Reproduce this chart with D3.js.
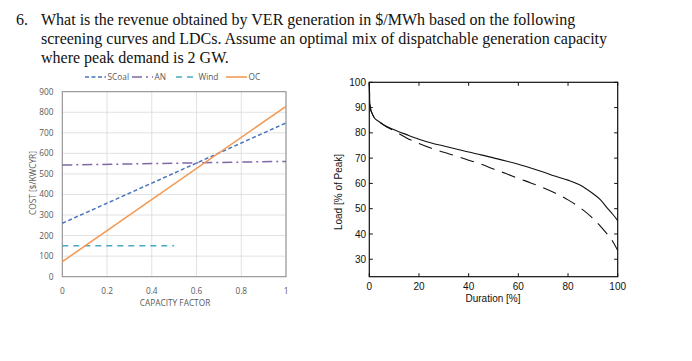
<!DOCTYPE html>
<html>
<head>
<meta charset="UTF-8">
<title>Screening curves and LDCs</title>
<script src="https://d3js.org/d3.v7.min.js"></script>
<style>
  body { margin: 0; background: #fff; }
  svg { display: block; }
</style>
</head>
<body>
<div id="chart"></div>
<script>
  // question text
  var questionLines = [
    "What is the revenue obtained by VER generation in $/MWh based on the following",
    "screening curves and LDCs. Assume an optimal mix of dispatchable generation capacity",
    "where peak demand is 2 GW."
  ];

  // screening curves (cost vs capacity factor)
  var cfTicks = [0, 0.2, 0.4, 0.6, 0.8, 1];
  var costTicks = [0, 100, 200, 300, 400, 500, 600, 700, 800, 900];
  var techNames = ["SCoal", "AN", "Wind", "OC"];
  var scoalCF = [0, 1], scoalCost = [260, 748];
  var anCF = [0, 1], anCost = [543, 561];
  var windCF = [0, 0.5], windCost = [150, 150];
  var ocCF = [0, 1], ocCost = [73, 829];

  // load duration curves
  var durTicks = [0, 20, 40, 60, 80, 100];
  var loadTicks = [30, 40, 50, 60, 70, 80, 90, 100];
  var durSolid = [0, 0.2, 0.5, 1, 2, 4, 6, 10, 15, 20, 25, 30, 35, 40, 45, 50, 55, 60, 65, 70, 75, 80, 85, 90, 93, 96, 98, 100];
  var loadSolid = [100, 92, 89.5, 88, 86, 84.4, 83, 81.2, 79.3, 77.5, 76, 74.8, 73.6, 72.4, 71.3, 70.1, 68.9, 67.6, 66.1, 64.5, 62.8, 61.3, 59.3, 56, 53.6, 50, 47.8, 45.3];
  var durDashed = [0, 0.2, 0.5, 1, 2, 4, 6, 10, 15, 20, 25, 30, 35, 40, 45, 50, 55, 60, 65, 70, 75, 80, 85, 90, 94, 98, 100];
  var loadDashed = [100, 92, 89.5, 88, 86, 84.4, 83, 80.8, 78, 75.8, 73.9, 72.3, 70.8, 69.2, 67.6, 65.7, 63.9, 62, 60.2, 58.3, 56.1, 53.5, 50.3, 46.2, 42, 37, 33.5];

  var W = 692, H = 361;
  var svg = d3.select("#chart").append("svg").attr("width", W).attr("height", H);

  // --- question ---
  var q = svg.append("g").attr("font-family", "'Liberation Serif', 'Times New Roman', serif")
    .attr("font-size", 16).attr("fill", "#111");
  q.append("text").attr("x", 16).attr("y", 25).text("6.");
  q.selectAll("text.line").data(questionLines).enter().append("text")
    .attr("class", "line")
    .attr("x", 41)
    .attr("y", function(d, i) { return 25 + i * 18.8; })
    .text(function(d) { return d; });

  // --- left: screening curves ---
  var x1 = d3.scaleLinear().domain([0, 1]).range([62.3, 286]);
  var y1 = d3.scaleLinear().domain([0, 900]).range([276.7, 91.7]);
  var left = svg.append("g").attr("font-family", "'Open Sans', 'Liberation Sans', sans-serif")
    .attr("fill", "#595959");

  left.append("g").selectAll("line.h").data(costTicks).enter().append("line")
    .attr("x1", x1(0)).attr("x2", x1(1))
    .attr("y1", function(d) { return y1(d); }).attr("y2", function(d) { return y1(d); })
    .attr("stroke", "#d9d9d9").attr("stroke-width", 0.8);
  left.append("g").selectAll("line.v").data(cfTicks).enter().append("line")
    .attr("y1", y1(0)).attr("y2", y1(900))
    .attr("x1", function(d) { return x1(d); }).attr("x2", function(d) { return x1(d); })
    .attr("stroke", "#d9d9d9").attr("stroke-width", 0.8);
  left.append("rect")
    .attr("x", x1(0)).attr("y", y1(900))
    .attr("width", x1(1) - x1(0)).attr("height", y1(0) - y1(900))
    .attr("fill", "none").attr("stroke", "#8c8c8c").attr("stroke-width", 1);

  left.append("g").selectAll("text").data(costTicks).enter().append("text")
    .attr("x", 53.5).attr("y", function(d) { return y1(d) + 3; })
    .attr("text-anchor", "end").attr("font-size", 8.3)
    .text(function(d) { return d; });
  left.append("g").selectAll("text").data(cfTicks).enter().append("text")
    .attr("x", function(d) { return x1(d); }).attr("y", 293.5)
    .attr("text-anchor", "middle").attr("font-size", 8.3)
    .text(function(d) { return d; });
  left.append("text")
    .attr("x", 175).attr("y", 305.5).attr("text-anchor", "middle").attr("font-size", 8.3)
    .text("CAPACITY FACTOR");
  left.append("text")
    .attr("transform", "translate(36,183) rotate(-90)")
    .attr("text-anchor", "middle").attr("font-size", 8.3)
    .text("COST [$/KWCYR]");

  var techStyle = [
    { xs: scoalCF, ys: scoalCost, color: "#4a75bd", dash: "4,2.5", w: 1.5 },
    { xs: anCF, ys: anCost, color: "#7e68a6", dash: "10,4,2,4", w: 1.5 },
    { xs: windCF, ys: windCost, color: "#4aa9c2", dash: "6,5", w: 1.5 },
    { xs: ocCF, ys: ocCost, color: "#f39a55", dash: null, w: 1.6 }
  ];
  var line1 = d3.line().x(function(d) { return x1(d[0]); }).y(function(d) { return y1(d[1]); });
  techStyle.forEach(function(s) {
    left.append("path")
      .datum(d3.zip(s.xs, s.ys))
      .attr("d", line1)
      .attr("fill", "none")
      .attr("stroke", s.color)
      .attr("stroke-width", s.w)
      .attr("stroke-dasharray", s.dash);
  });

  // legend
  var legX = [85, 132, 176, 226];
  var leg = left.append("g");
  techNames.forEach(function(n, i) {
    var s = techStyle[i];
    leg.append("line")
      .attr("x1", legX[i]).attr("x2", legX[i] + 21)
      .attr("y1", 77).attr("y2", 77)
      .attr("stroke", s.color).attr("stroke-width", s.w)
      .attr("stroke-dasharray", s.dash);
    leg.append("text")
      .attr("x", legX[i] + 22.5).attr("y", 80)
      .attr("font-size", 8.3)
      .text(n);
  });

  // --- right: load duration curves ---
  var x2 = d3.scaleLinear().domain([0, 100]).range([369.3, 617.7]);
  var y2 = d3.scaleLinear().domain([23.1, 100]).range([276.7, 82.3]);
  var right = svg.append("g").attr("font-family", "'Liberation Sans', Arial, sans-serif")
    .attr("fill", "#111");

  var line2 = d3.line().curve(d3.curveMonotoneX)
    .x(function(d) { return x2(d[0]); }).y(function(d) { return y2(d[1]); });
  right.append("path")
    .datum(d3.zip(durDashed, loadDashed))
    .attr("d", line2)
    .attr("fill", "none").attr("stroke", "#111").attr("stroke-width", 1.1)
    .attr("stroke-dasharray", "14,8");
  right.append("path")
    .datum(d3.zip(durSolid, loadSolid))
    .attr("d", line2)
    .attr("fill", "none").attr("stroke", "#111").attr("stroke-width", 1.1);

  right.append("rect")
    .attr("x", x2(0)).attr("y", y2(100))
    .attr("width", x2(100) - x2(0)).attr("height", y2(23.1) - y2(100))
    .attr("fill", "none").attr("stroke", "#111").attr("stroke-width", 1.2);

  var tk = 3.5;
  var ticksX = right.append("g").attr("stroke", "#111").attr("stroke-width", 1);
  durTicks.forEach(function(d) {
    ticksX.append("line").attr("x1", x2(d)).attr("x2", x2(d)).attr("y1", y2(23.1)).attr("y2", y2(23.1) - tk);
    ticksX.append("line").attr("x1", x2(d)).attr("x2", x2(d)).attr("y1", y2(100)).attr("y2", y2(100) + tk);
  });
  loadTicks.forEach(function(d) {
    ticksX.append("line").attr("x1", x2(0)).attr("x2", x2(0) + tk).attr("y1", y2(d)).attr("y2", y2(d));
    ticksX.append("line").attr("x1", x2(100)).attr("x2", x2(100) - tk).attr("y1", y2(d)).attr("y2", y2(d));
  });

  right.append("g").selectAll("text").data(loadTicks).enter().append("text")
    .attr("x", 366).attr("y", function(d) { return y2(d) + 3.6; })
    .attr("text-anchor", "end").attr("font-size", 10)
    .text(function(d) { return d; });
  right.append("g").selectAll("text").data(durTicks).enter().append("text")
    .attr("x", function(d) { return x2(d); }).attr("y", 289.5)
    .attr("text-anchor", "middle").attr("font-size", 10)
    .text(function(d) { return d; });
  right.append("text")
    .attr("x", 493).attr("y", 302).attr("text-anchor", "middle").attr("font-size", 10)
    .text("Duration [%]");
  right.append("text")
    .attr("transform", "translate(342,192) rotate(-90)")
    .attr("text-anchor", "middle").attr("font-size", 10)
    .text("Load [% of Peak]");
</script>
</body>
</html>
